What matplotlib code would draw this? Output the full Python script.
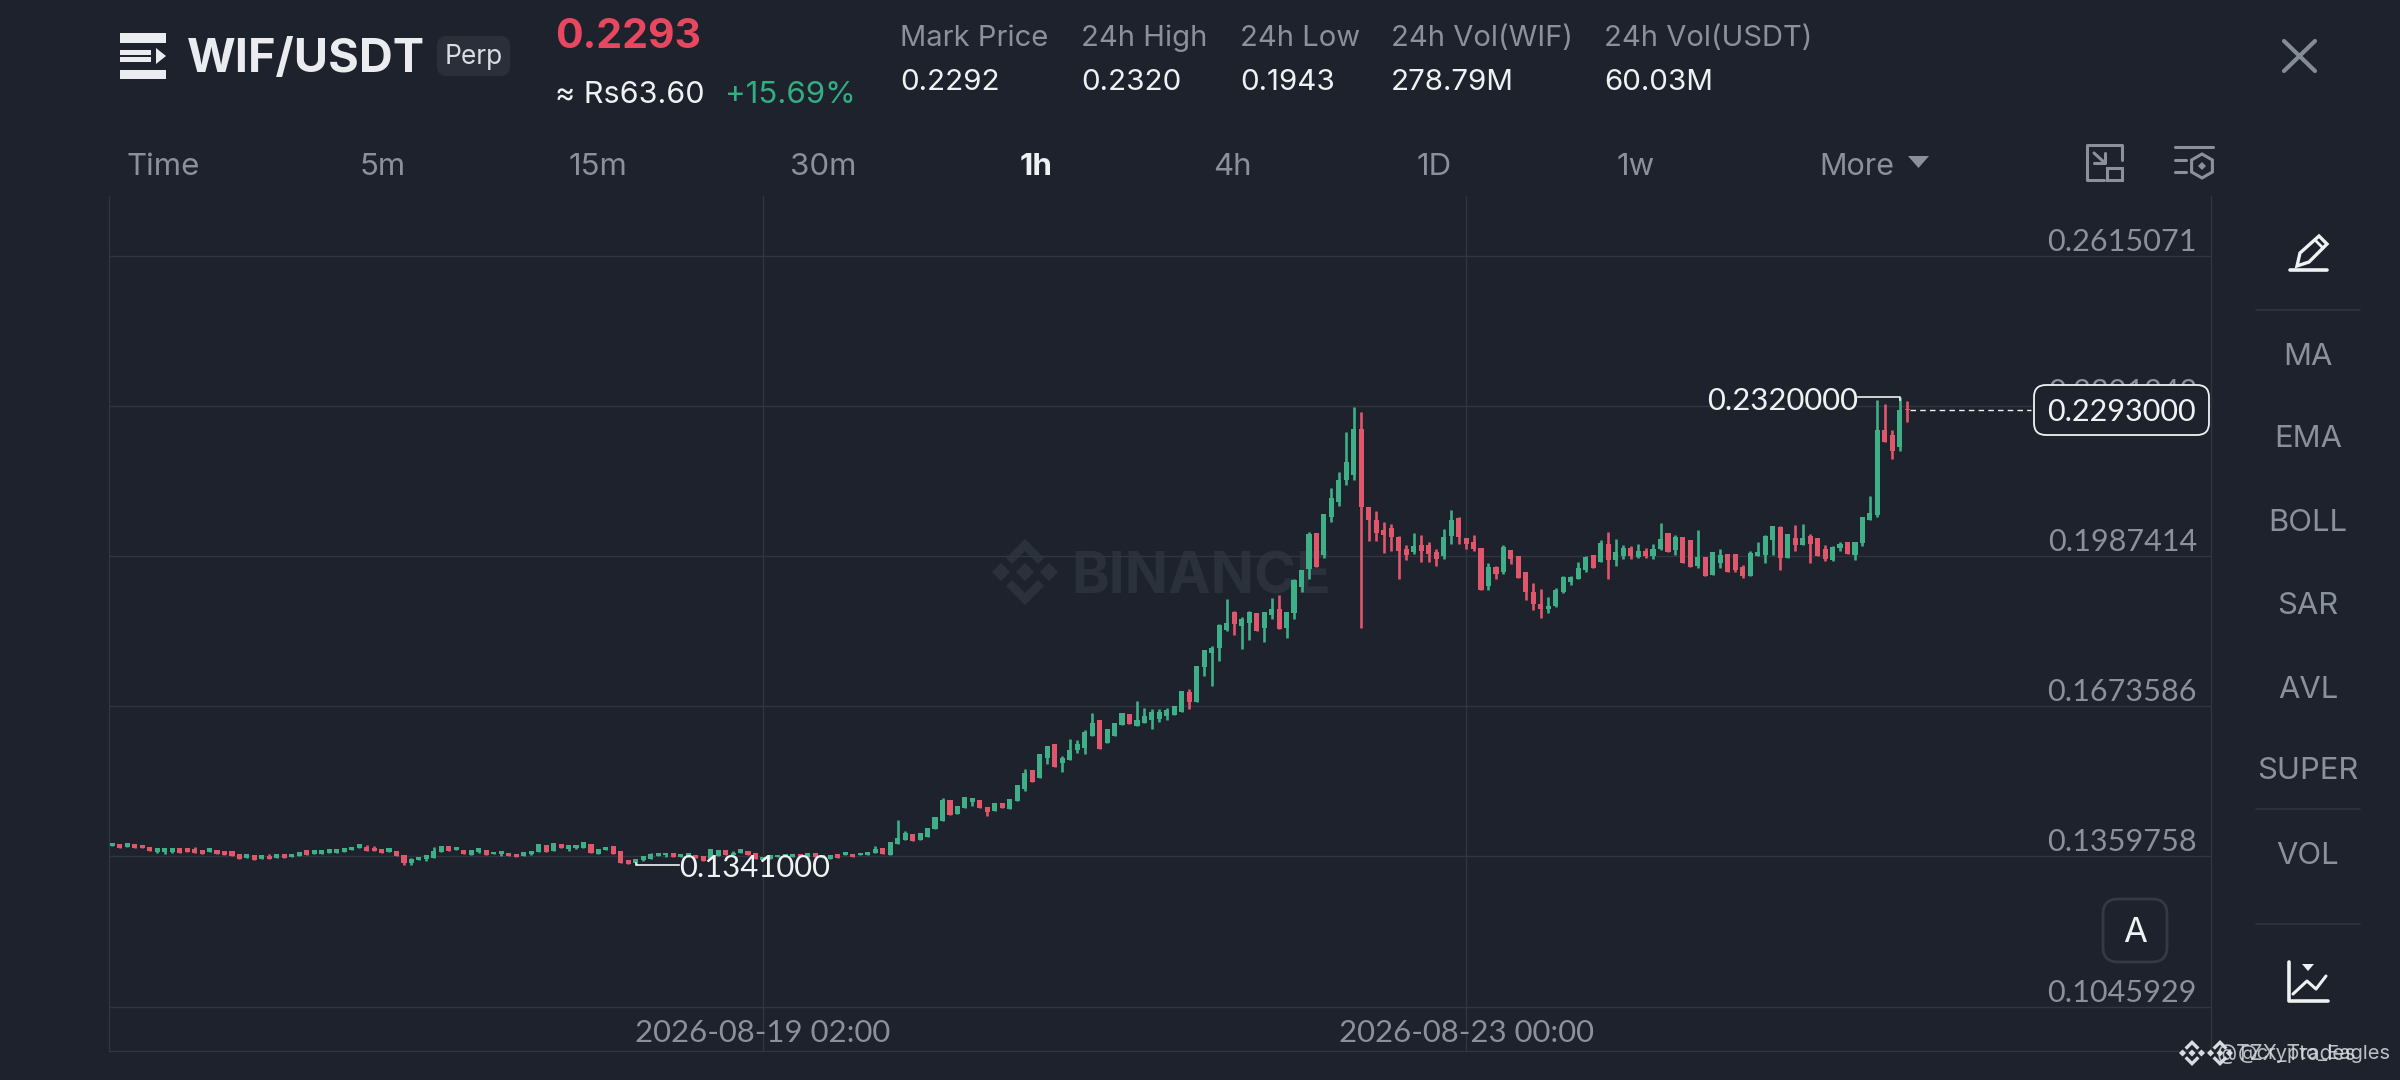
#!/usr/bin/env python3
# WIF/USDT perp 1h candles, dark exchange screen
import numpy as np
import matplotlib
matplotlib.use("Agg")
import matplotlib.pyplot as plt
from matplotlib.patches import FancyBboxPatch, Polygon, Rectangle

plt.rcParams["font.family"] = ["Inter", "DejaVu Sans"]
NUM_FONT = ["Lato", "DejaVu Sans"]

W, H = 2400, 1080
BG = "#1d222c"
GRID = "#30363f"
GREY = "#8a919c"
WHITE = "#f0f1f3"
UP = "#3eaf87"
DOWN = "#e0566b"

# ─── Chart data ──────────────────────────────────────────────────────────────
OPENS = [
    0.1382, 0.1385, 0.1380, 0.1385, 0.1384, 0.1380, 0.1370, 0.1370, 0.1369, 0.1377,
    0.1377, 0.1375, 0.1373, 0.1370, 0.1373, 0.1371, 0.1372, 0.1365, 0.1357, 0.1362,
    0.1355, 0.1361, 0.1357, 0.1365, 0.1359, 0.1361, 0.1373, 0.1366, 0.1366, 0.1367,
    0.1368, 0.1370, 0.1373, 0.1377, 0.1380, 0.1378, 0.1375, 0.1370, 0.1372, 0.1363,
    0.1347, 0.1352, 0.1354, 0.1357, 0.1369, 0.1382, 0.1373, 0.1373, 0.1363, 0.1370,
    0.1373, 0.1365, 0.1366, 0.1368, 0.1366, 0.1361, 0.1366, 0.1370, 0.1383, 0.1372,
    0.1386, 0.1375, 0.1377, 0.1377, 0.1385, 0.1366, 0.1374, 0.1381, 0.1371, 0.1352,
    0.1346, 0.1353, 0.1354, 0.1361, 0.1362, 0.1367, 0.1358, 0.1359, 0.1363, 0.1361,
    0.1355, 0.1360, 0.1373, 0.1362, 0.1368, 0.1372, 0.1368, 0.1352, 0.1355, 0.1358,
    0.1358, 0.1359, 0.1366, 0.1359, 0.1368, 0.1357, 0.1355, 0.1366, 0.1362, 0.1366,
    0.1362, 0.1363, 0.1368, 0.1377, 0.1363, 0.1386, 0.1394, 0.1406, 0.1394, 0.1401,
    0.1417, 0.1433, 0.1478, 0.1449, 0.1461, 0.1474, 0.1478, 0.1463, 0.1454, 0.1471,
    0.1458, 0.1476, 0.1501, 0.1540, 0.1524, 0.1566, 0.1595, 0.1555, 0.1562, 0.1583,
    0.1586, 0.1611, 0.1646, 0.1597, 0.1611, 0.1635, 0.1658, 0.1632, 0.1639, 0.1644,
    0.1648, 0.1653, 0.1655, 0.1661, 0.1703, 0.1683, 0.1755, 0.1785, 0.1796, 0.1834,
    0.1870, 0.1841, 0.1848, 0.1869, 0.1837, 0.1865, 0.1876, 0.1837, 0.1869, 0.1923,
    0.1961, 0.2035, 0.1989, 0.2069, 0.2100, 0.2146, 0.2156, 0.2254, 0.2090, 0.2062,
    0.2041, 0.2047, 0.2027, 0.2003, 0.1996, 0.2011, 0.2010, 0.1996, 0.1987, 0.2029,
    0.2066, 0.2026, 0.2017, 0.2005, 0.1924, 0.1964, 0.1954, 0.2001, 0.1988, 0.1954,
    0.1912, 0.1888, 0.1877, 0.1884, 0.1913, 0.1933, 0.1939, 0.1959, 0.1989, 0.1976,
    0.2013, 0.1980, 0.1987, 0.2004, 0.1985, 0.1999, 0.1987, 0.2002, 0.2036, 0.2001,
    0.2027, 0.2022, 0.1966, 0.1985, 0.1947, 0.1973, 0.1992, 0.1992, 0.1964, 0.1946,
    0.1988, 0.1990, 0.2022, 0.2049, 0.1983, 0.2025, 0.2011, 0.2030, 0.2026, 0.2002,
    0.1980, 0.2004, 0.2017, 0.1990, 0.2015, 0.2063, 0.2074, 0.2250, 0.2240, 0.2216, 0.2295,
]
HIGHS = [
    0.1389, 0.1385, 0.1387, 0.1385, 0.1384, 0.1380, 0.1377, 0.1377, 0.1377, 0.1377,
    0.1377, 0.1380, 0.1373, 0.1377, 0.1373, 0.1371, 0.1372, 0.1365, 0.1365, 0.1362,
    0.1362, 0.1365, 0.1366, 0.1365, 0.1365, 0.1370, 0.1373, 0.1373, 0.1373, 0.1375,
    0.1375, 0.1377, 0.1379, 0.1385, 0.1384, 0.1382, 0.1375, 0.1377, 0.1372, 0.1363,
    0.1356, 0.1358, 0.1363, 0.1380, 0.1382, 0.1382, 0.1380, 0.1373, 0.1373, 0.1378,
    0.1373, 0.1370, 0.1371, 0.1368, 0.1366, 0.1370, 0.1372, 0.1385, 0.1383, 0.1389,
    0.1386, 0.1383, 0.1384, 0.1390, 0.1385, 0.1375, 0.1380, 0.1381, 0.1371, 0.1352,
    0.1355, 0.1360, 0.1368, 0.1368, 0.1368, 0.1367, 0.1366, 0.1368, 0.1363, 0.1361,
    0.1375, 0.1373, 0.1373, 0.1372, 0.1375, 0.1372, 0.1368, 0.1359, 0.1362, 0.1363,
    0.1366, 0.1366, 0.1366, 0.1368, 0.1368, 0.1363, 0.1363, 0.1366, 0.1370, 0.1366,
    0.1368, 0.1370, 0.1382, 0.1377, 0.1391, 0.1435, 0.1414, 0.1406, 0.1408, 0.1419,
    0.1442, 0.1483, 0.1478, 0.1466, 0.1485, 0.1483, 0.1478, 0.1463, 0.1471, 0.1471,
    0.1480, 0.1509, 0.1543, 0.1540, 0.1573, 0.1590, 0.1595, 0.1569, 0.1606, 0.1604,
    0.1625, 0.1660, 0.1646, 0.1626, 0.1638, 0.1660, 0.1658, 0.1685, 0.1670, 0.1668,
    0.1668, 0.1669, 0.1675, 0.1706, 0.1710, 0.1757, 0.1791, 0.1799, 0.1846, 0.1897,
    0.1872, 0.1860, 0.1873, 0.1869, 0.1870, 0.1899, 0.1907, 0.1871, 0.1939, 0.1959,
    0.2038, 0.2035, 0.2076, 0.2130, 0.2164, 0.2247, 0.2299, 0.2289, 0.2091, 0.2082,
    0.2058, 0.2055, 0.2029, 0.2011, 0.2035, 0.2032, 0.2017, 0.2003, 0.2045, 0.2083,
    0.2069, 0.2026, 0.2031, 0.2005, 0.1973, 0.1966, 0.2011, 0.2001, 0.1988, 0.1954,
    0.1931, 0.1918, 0.1902, 0.1921, 0.1945, 0.1945, 0.1976, 0.1987, 0.1989, 0.2022,
    0.2038, 0.2024, 0.2010, 0.2009, 0.2013, 0.2005, 0.2013, 0.2056, 0.2036, 0.2032,
    0.2027, 0.2022, 0.2041, 0.1985, 0.1996, 0.2002, 0.1992, 0.1992, 0.1968, 0.1998,
    0.2016, 0.2032, 0.2051, 0.2050, 0.2034, 0.2052, 0.2054, 0.2033, 0.2026, 0.2010,
    0.2009, 0.2016, 0.2017, 0.2016, 0.2069, 0.2112, 0.2313, 0.2306, 0.2250, 0.2320, 0.2311,
]
LOWS = [
    0.1382, 0.1378, 0.1380, 0.1378, 0.1377, 0.1372, 0.1368, 0.1366, 0.1368, 0.1368,
    0.1369, 0.1368, 0.1365, 0.1370, 0.1366, 0.1363, 0.1361, 0.1354, 0.1357, 0.1352,
    0.1355, 0.1354, 0.1357, 0.1357, 0.1359, 0.1361, 0.1363, 0.1366, 0.1366, 0.1367,
    0.1368, 0.1370, 0.1373, 0.1377, 0.1372, 0.1371, 0.1368, 0.1370, 0.1361, 0.1343,
    0.1343, 0.1352, 0.1350, 0.1357, 0.1369, 0.1372, 0.1373, 0.1364, 0.1363, 0.1368,
    0.1363, 0.1365, 0.1361, 0.1361, 0.1358, 0.1361, 0.1363, 0.1370, 0.1370, 0.1372,
    0.1377, 0.1372, 0.1375, 0.1377, 0.1367, 0.1366, 0.1374, 0.1366, 0.1347, 0.1345,
    0.1341, 0.1351, 0.1354, 0.1361, 0.1358, 0.1358, 0.1358, 0.1359, 0.1357, 0.1351,
    0.1355, 0.1360, 0.1363, 0.1362, 0.1368, 0.1362, 0.1354, 0.1352, 0.1355, 0.1358,
    0.1358, 0.1359, 0.1358, 0.1359, 0.1358, 0.1357, 0.1355, 0.1357, 0.1362, 0.1359,
    0.1362, 0.1363, 0.1368, 0.1366, 0.1363, 0.1386, 0.1394, 0.1393, 0.1394, 0.1401,
    0.1417, 0.1433, 0.1447, 0.1449, 0.1461, 0.1465, 0.1462, 0.1445, 0.1454, 0.1462,
    0.1458, 0.1476, 0.1496, 0.1516, 0.1524, 0.1552, 0.1547, 0.1537, 0.1562, 0.1577,
    0.1573, 0.1611, 0.1584, 0.1597, 0.1611, 0.1635, 0.1636, 0.1632, 0.1639, 0.1626,
    0.1640, 0.1646, 0.1655, 0.1661, 0.1668, 0.1683, 0.1736, 0.1715, 0.1768, 0.1831,
    0.1822, 0.1794, 0.1812, 0.1830, 0.1808, 0.1855, 0.1835, 0.1816, 0.1856, 0.1912,
    0.1940, 0.1964, 0.1983, 0.2058, 0.2092, 0.2135, 0.2147, 0.1838, 0.2020, 0.2020,
    0.1994, 0.1999, 0.1940, 0.1980, 0.1991, 0.1975, 0.1975, 0.1966, 0.1982, 0.2013,
    0.2012, 0.2003, 0.1998, 0.1917, 0.1917, 0.1940, 0.1949, 0.1970, 0.1942, 0.1895,
    0.1874, 0.1858, 0.1869, 0.1882, 0.1910, 0.1926, 0.1939, 0.1955, 0.1963, 0.1976,
    0.1940, 0.1966, 0.1981, 0.1981, 0.1984, 0.1984, 0.1981, 0.2000, 0.1996, 0.1990,
    0.1974, 0.1964, 0.1963, 0.1946, 0.1947, 0.1962, 0.1955, 0.1955, 0.1941, 0.1946,
    0.1988, 0.1974, 0.1989, 0.1959, 0.1983, 0.1999, 0.2011, 0.1974, 0.1987, 0.1978,
    0.1978, 0.1999, 0.1991, 0.1980, 0.2009, 0.2063, 0.2069, 0.2226, 0.2190, 0.2207, 0.2268,
]
CLOSES = [
    0.1389, 0.1378, 0.1387, 0.1378, 0.1377, 0.1372, 0.1377, 0.1377, 0.1377, 0.1368,
    0.1369, 0.1368, 0.1365, 0.1377, 0.1366, 0.1363, 0.1361, 0.1354, 0.1365, 0.1352,
    0.1362, 0.1354, 0.1366, 0.1357, 0.1365, 0.1370, 0.1363, 0.1373, 0.1373, 0.1375,
    0.1375, 0.1377, 0.1379, 0.1385, 0.1372, 0.1371, 0.1368, 0.1377, 0.1361, 0.1347,
    0.1354, 0.1358, 0.1363, 0.1371, 0.1382, 0.1372, 0.1380, 0.1364, 0.1373, 0.1378,
    0.1363, 0.1370, 0.1371, 0.1361, 0.1358, 0.1370, 0.1372, 0.1385, 0.1370, 0.1389,
    0.1377, 0.1383, 0.1384, 0.1390, 0.1367, 0.1375, 0.1380, 0.1366, 0.1347, 0.1345,
    0.1355, 0.1360, 0.1364, 0.1368, 0.1368, 0.1358, 0.1366, 0.1368, 0.1357, 0.1351,
    0.1375, 0.1373, 0.1363, 0.1368, 0.1375, 0.1362, 0.1354, 0.1359, 0.1362, 0.1363,
    0.1366, 0.1366, 0.1358, 0.1368, 0.1358, 0.1363, 0.1363, 0.1357, 0.1370, 0.1359,
    0.1368, 0.1370, 0.1375, 0.1366, 0.1390, 0.1398, 0.1408, 0.1393, 0.1408, 0.1419,
    0.1442, 0.1477, 0.1447, 0.1466, 0.1485, 0.1483, 0.1462, 0.1453, 0.1471, 0.1462,
    0.1480, 0.1509, 0.1534, 0.1516, 0.1573, 0.1590, 0.1547, 0.1566, 0.1583, 0.1595,
    0.1619, 0.1639, 0.1584, 0.1626, 0.1638, 0.1660, 0.1636, 0.1644, 0.1653, 0.1662,
    0.1662, 0.1665, 0.1675, 0.1706, 0.1682, 0.1757, 0.1791, 0.1795, 0.1844, 0.1848,
    0.1846, 0.1856, 0.1870, 0.1830, 0.1870, 0.1876, 0.1835, 0.1871, 0.1937, 0.1959,
    0.2034, 0.1964, 0.2075, 0.2109, 0.2146, 0.2183, 0.2254, 0.2090, 0.2062, 0.2035,
    0.2031, 0.2027, 0.1999, 0.1989, 0.2008, 0.1999, 0.1992, 0.1982, 0.2027, 0.2062,
    0.2027, 0.2012, 0.2003, 0.1917, 0.1964, 0.1950, 0.2006, 0.1982, 0.1942, 0.1912,
    0.1888, 0.1877, 0.1884, 0.1917, 0.1943, 0.1943, 0.1962, 0.1986, 0.1963, 0.2015,
    0.1980, 0.1997, 0.2004, 0.1987, 0.1999, 0.1987, 0.2002, 0.2023, 0.1996, 0.2027,
    0.1974, 0.1964, 0.1985, 0.1946, 0.1996, 0.1990, 0.1955, 0.1959, 0.1945, 0.1994,
    0.1996, 0.2029, 0.2051, 0.1983, 0.2034, 0.2011, 0.2025, 0.2013, 0.1987, 0.1981,
    0.2006, 0.2013, 0.1991, 0.2016, 0.2069, 0.2078, 0.2250, 0.2226, 0.2207, 0.2293, 0.2292,
]
PRICE_TICKS = [0.2615071, 0.2301242, 0.1987414, 0.1673586, 0.1359758, 0.1045929]
TIME_TICKS = [87, 181]
TIME_LABELS = ["2026-08-19 02:00", "2026-08-23 00:00"]
HIGH_IDX, HIGH_PRICE = 239, 0.2320
LOW_IDX, LOW_PRICE = 70, 0.1341
LAST_PRICE = 0.2293

# Header + side panel text
STATS = ["Mark Price", "24h High", "24h Low", "24h Vol(WIF)", "24h Vol(USDT)"]
STAT_VALUES = ["0.2292", "0.2320", "0.1943", "278.79M", "60.03M"]
INTERVALS = ["5m", "15m", "30m", "1h", "4h", "1D", "1w"]
INDICATORS = ["MA", "EMA", "BOLL", "SAR", "AVL", "SUPER", "VOL"]

fig = plt.figure(figsize=(W / 100, H / 100), dpi=100, facecolor=BG)


def px_rect(left, top, right, bottom):
    return [left / W, 1 - bottom / H, (right - left) / W, (bottom - top) / H]


# ─── Watermark layer, under the candles ──────────────────────────────────────
def binance_logo(target, cx, cy, r, color):
    s = r / 33.0
    shapes = [
        [(0, -9), (9, 0), (0, 9), (-9, 0)],
        [(-24, -9), (-15, 0), (-24, 9), (-33, 0)],
        [(24, -9), (33, 0), (24, 9), (15, 0)],
        [(0, -33), (19, -14), (13, -8), (0, -21), (-13, -8), (-19, -14)],
        [(0, 33), (19, 14), (13, 8), (0, 21), (-13, 8), (-19, 14)],
    ]
    for pts in shapes:
        target.add_patch(Polygon([(cx + a * s, cy + b * s) for a, b in pts],
                                 closed=True, facecolor=color, edgecolor="none"))


wm = fig.add_axes([0, 0, 1, 1], facecolor="none", zorder=-1)
wm.set_xlim(0, W)
wm.set_ylim(H, 0)
wm.axis("off")
binance_logo(wm, 1025, 572, 33, "#2b313b")
wm.text(1071, 578, "BINANCE", fontsize=41, color="#2b313b", fontweight="bold", va="center")

# ─── Candle chart ────────────────────────────────────────────────────────────
ax = fig.add_axes(px_rect(109, 196, 2211, 1051), zorder=1)
ax.patch.set_visible(False)
o, h, l, c = map(np.array, (OPENS, HIGHS, LOWS, CLOSES))
x = np.arange(len(o))
colors = np.where(c >= o, UP, DOWN)

ax.set_xlim(-0.44, 280.6)
# price ticks are 150.2 px apart, 856.5 px is the 0.1359758 line
per_px = (PRICE_TICKS[0] - PRICE_TICKS[-1]) / (1007 - 256)
ax.set_ylim(PRICE_TICKS[4] - (1051 - 856.5) * per_px,
            PRICE_TICKS[4] + (856.5 - 196) * per_px)

ax.set_yticks(PRICE_TICKS)
ax.set_xticks(TIME_TICKS)
ax.tick_params(length=0, labelleft=False, labelbottom=False)
ax.grid(True, color=GRID, linewidth=1.0)
ax.set_axisbelow(True)
for side, spine in ax.spines.items():
    spine.set_color(GRID)
    spine.set_linewidth(1.0)
    spine.set_visible(side != "top")

ax.vlines(x, l, h, colors=colors, linewidth=1.9, zorder=3)
ax.bar(x, np.maximum(np.abs(c - o), 0.0003), bottom=np.minimum(o, c), width=0.68,
       color=colors, linewidth=0, zorder=3)

trans = ax.get_yaxis_transform()
for t in PRICE_TICKS:
    ax.annotate(f"{t:.7f}", xy=(1, t), xycoords=trans, xytext=(-14, 14),
                textcoords="offset pixels", ha="right", va="center",
                color=GREY, fontsize=22.1, family=NUM_FONT, zorder=2)

for t, label in zip(TIME_TICKS, TIME_LABELS):
    ax.annotate(label, xy=(t, 0), xycoords=ax.get_xaxis_transform(), xytext=(0, 18),
                textcoords="offset pixels", ha="center", va="center",
                color=GREY, fontsize=22.4, family=NUM_FONT)

# high / low / last price markers
ax.plot([HIGH_IDX - 5.6, HIGH_IDX, HIGH_IDX], [HIGH_PRICE, HIGH_PRICE, HIGH_PRICE - 0.0006],
        color=WHITE, linewidth=1.2, zorder=4)
ax.annotate(f"{HIGH_PRICE:.7f}", xy=(HIGH_IDX - 5.6, HIGH_PRICE), xytext=(0, -4),
            textcoords="offset pixels", ha="right", va="center", color=WHITE,
            fontsize=22.3, family=NUM_FONT, zorder=5)
ax.plot([LOW_IDX, LOW_IDX, LOW_IDX + 5.8], [LOW_PRICE + 0.0006, LOW_PRICE, LOW_PRICE],
        color=WHITE, linewidth=1.2, zorder=4)
ax.annotate(f"{LOW_PRICE:.7f}", xy=(LOW_IDX + 5.8, LOW_PRICE), xytext=(0, -3),
            textcoords="offset pixels", ha="left", va="center", color=WHITE,
            fontsize=22.3, family=NUM_FONT, zorder=5)
ax.plot([240.4, 256.6], [LAST_PRICE, LAST_PRICE], color=WHITE, linewidth=1.0,
        linestyle=(0, (4, 3)), zorder=4)

# ─── Screen furniture, drawn in pixel space ──────────────────────────────────
ui = fig.add_axes([0, 0, 1, 1], facecolor="none", zorder=5)
ui.set_xlim(0, W)
ui.set_ylim(H, 0)
ui.axis("off")


def txt(x0, y0, s, size=20, color=GREY, ha="left", weight="normal", **kw):
    ui.text(x0, y0 + 9, s, fontsize=size, color=color, ha=ha, va="center",
            fontweight=weight, **kw)


def line(xs, ys, color=GREY, lw=2.0):
    ui.plot(xs, ys, color=color, linewidth=lw, solid_capstyle="round")


# top left: menu logo + symbol
for top, bot in [(33, 43), (70, 79)]:
    ui.add_patch(Rectangle((120, top), 46, bot - top, facecolor="#eaecef"))
ui.add_patch(Rectangle((120, 50), 31, 5, facecolor="#eaecef"))
ui.add_patch(Rectangle((120, 57), 31, 5, facecolor="#eaecef"))
ui.add_patch(Polygon([(156, 48), (166, 56), (156, 64)], facecolor="#eaecef"))
txt(187, 51, "WIF/USDT", size=33.8, color="#eaecef", weight="bold")
ui.add_patch(FancyBboxPatch((441, 40), 65, 32, boxstyle="round,pad=0,rounding_size=6",
                            facecolor="#2a2f3a", edgecolor="#2a2f3a", linewidth=6))
txt(474, 48, "Perp", size=19, color="#d9dce0", ha="center")

txt(555, 28, "0.2293", size=29.5, color="#e8485f", weight="bold")
txt(555, 86, "≈ Rs63.60", size=22, color=WHITE)
txt(725, 86, "+15.69%", size=22.5, color="#33ae82")

for x0, name, value in zip([900, 1081, 1240, 1391, 1604], STATS, STAT_VALUES):
    txt(x0, 29, name, size=21)
    txt(x0, 74, value, size=21.3, color=WHITE)

# interval row
txt(127, 158, "Time", size=22.5)
for cx, name in zip([383, 598, 823, 1036, 1232, 1434, 1636], INTERVALS):
    active = name == "1h"
    txt(cx, 158, name, size=22.5, color=WHITE if active else GREY, ha="center",
        weight="bold" if active else "normal")
txt(1819, 158, "More", size=22)
ui.add_patch(Polygon([(1908, 156), (1929, 156), (1918.5, 168)], facecolor=GREY))

# close + toolbar icons
line([2284, 2315], [41, 71], color="#858c96", lw=3)
line([2315, 2284], [41, 71], color="#858c96", lw=3)
line([2104, 2087, 2087, 2122, 2122], [180, 180, 145, 145, 160], lw=2.2)
ui.add_patch(Rectangle((2107, 168), 15, 12, facecolor="none", edgecolor=GREY, linewidth=2.2))
line([2094, 2105], [153, 163], lw=2.2)
line([2094, 2105, 2105], [163, 163, 153], lw=2.2)
line([2175, 2213], [147, 147], lw=2.2)
line([2175, 2186], [160, 160], lw=2.2)
line([2175, 2186], [172, 172], lw=2.2)
ang = np.deg2rad(np.arange(30, 390, 60))
ui.add_patch(Polygon(np.c_[2202 + 12 * np.cos(ang), 166 + 12 * np.sin(ang)],
                     facecolor="none", edgecolor=GREY, linewidth=2.2))
ui.add_patch(Polygon([(2202, 162), (2206, 166), (2202, 170), (2198, 166)], facecolor=GREY))

# right side panel
ui.add_patch(Polygon([(2297, 266), (2300, 253), (2319, 236), (2327, 244), (2309, 262)],
                     facecolor="none", edgecolor=WHITE, linewidth=2.4))
line([2315, 2323], [240, 248], color=WHITE, lw=2)
line([2290, 2327], [270, 270], color=WHITE, lw=2.6)
for y0 in [310, 809, 924]:
    line([2256, 2360], [y0, y0], color="#2f343e", lw=1.2)
for y0, name in zip([348, 430, 514, 597, 681, 762, 847], INDICATORS):
    txt(2308, y0, name, size=22.3, ha="center")

# auto button
ui.add_patch(FancyBboxPatch((2103, 899), 64, 63, boxstyle="round,pad=0,rounding_size=15",
                            facecolor=BG, edgecolor="#343a45", linewidth=2))
txt(2135, 924, "A", size=25, color=WHITE, ha="center")

# indicator chart icon
line([2289, 2289, 2328], [962, 1001, 1001], color=WHITE, lw=2.6)
line([2293, 2307, 2316, 2326], [994, 981, 989, 976], color=WHITE, lw=2.2)
ui.add_patch(Polygon([(2302, 964), (2314, 964), (2308, 971)], facecolor=WHITE))

# last price box, hides most of the tick label behind it
ui.add_patch(FancyBboxPatch((2034, 385), 175, 50, boxstyle="round,pad=0,rounding_size=12",
                            facecolor=BG, edgecolor=WHITE, linewidth=1.3))
txt(2121, 403, f"{LAST_PRICE:.7f}", size=22, color=WHITE, ha="center", family=NUM_FONT)

# footer credits, two overlaid stamps
binance_logo(ui, 2192, 1053, 13, "#d8dbdf")
binance_logo(ui, 2220, 1053, 13, "#d8dbdf")
txt(2217, 1045, "@TZX_Trades", size=15, color="#d8dbdf", alpha=0.85)
txt(2238, 1045, "@crypto_Eagles", size=14.5, color="#d8dbdf", alpha=0.85)

fig.savefig("out.png", dpi=100, facecolor=BG)
plt.close(fig)
print("Saved: out.png")
